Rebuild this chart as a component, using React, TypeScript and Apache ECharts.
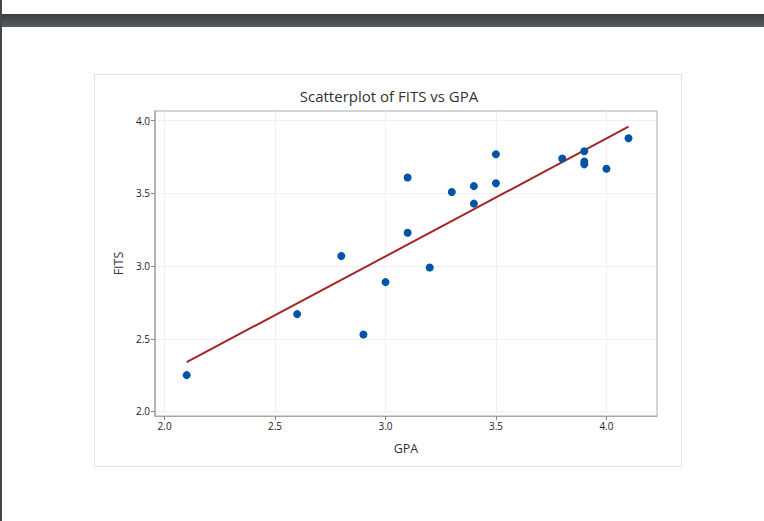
import React, { useEffect, useRef } from "react";
import * as echarts from "echarts";

const gpa = [2.1, 2.6, 2.8, 2.9, 3.0, 3.1, 3.1, 3.2, 3.3, 3.4, 3.4, 3.5, 3.5, 3.8, 3.9, 3.9, 3.9, 4.0, 4.1];
const fits = [2.25, 2.67, 3.07, 2.53, 2.89, 3.61, 3.23, 2.99, 3.51, 3.55, 3.43, 3.77, 3.57, 3.74, 3.79, 3.72, 3.70, 3.67, 3.88];
const fitLineX = [2.1, 3.35, 4.1];
const fitLineY = [2.34, 3.35, 3.96];
const xTicks = [2.0, 2.5, 3.0, 3.5, 4.0];
const yTicks = [2.0, 2.5, 3.0, 3.5, 4.0];

export default function App() {
  const ref = useRef<HTMLDivElement>(null);
  useEffect(() => {
    if (!ref.current) return;
    const chart = echarts.init(ref.current, null, { renderer: "svg" });
    const font = "'Open Sans', 'Noto Sans', sans-serif";
    chart.setOption({
      animation: false,
      backgroundColor: "#ffffff",
      graphic: [
        {
          type: "rect",
          shape: { x: 0, y: 14, width: 764, height: 13 },
          style: {
            fill: new echarts.graphic.LinearGradient(0, 0, 0, 1, [
              { offset: 0, color: "#3a3e43" },
              { offset: 1, color: "#555a5f" },
            ]),
          },
          silent: true,
        },
        {
          type: "rect",
          shape: { x: 0, y: 0, width: 2, height: 521 },
          style: { fill: "#44484d" },
          silent: true,
        },
        {
          type: "rect",
          shape: { x: 94.5, y: 74.5, width: 587, height: 392 },
          style: { fill: "none", stroke: "#e2e2e2", lineWidth: 1 },
          silent: true,
        },
        {
          type: "text",
          x: 389,
          y: 96,
          style: {
            text: "Scatterplot of FITS vs GPA",
            fontSize: 15,
            fontFamily: font,
            fill: "#333333",
            textAlign: "center",
            textVerticalAlign: "middle",
          },
        },
      ],
      grid: {
        left: 155,
        top: 111,
        width: 502,
        height: 305,
        show: true,
        borderColor: "#a8a8a8",
        borderWidth: 1,
        containLabel: false,
      },
      xAxis: {
        type: "value",
        min: 1.9565,
        max: 4.229,
        name: "GPA",
        nameLocation: "middle",
        nameGap: 26,
        nameTextStyle: { fontSize: 12.5, color: "#333", fontFamily: font },
        axisLine: { show: true, lineStyle: { color: "#a8a8a8", width: 1 } },
        axisTick: { show: true, length: 4, lineStyle: { color: "#888" }, customValues: xTicks },
        axisLabel: {
          fontSize: 10,
          color: "#222",
          fontFamily: font,
          margin: 5,
          customValues: xTicks,
          formatter: (v: number) => v.toFixed(1),
        },
        splitLine: { show: true, lineStyle: { color: "#f0f0f0", width: 1 } },
      },
      yAxis: {
        type: "value",
        min: 1.969,
        max: 4.067,
        name: "FITS",
        nameLocation: "middle",
        nameGap: 28,
        nameTextStyle: { fontSize: 12.5, color: "#333", fontFamily: font },
        axisLine: { show: true, lineStyle: { color: "#a8a8a8", width: 1.5 } },
        axisTick: { show: true, length: 4, lineStyle: { color: "#888" }, customValues: yTicks },
        axisLabel: {
          fontSize: 10,
          color: "#222",
          fontFamily: font,
          margin: 5,
          customValues: yTicks,
          formatter: (v: number) => v.toFixed(1),
        },
        splitLine: { show: true, lineStyle: { color: "#f0f0f0", width: 1 } },
      },
      series: [
        {
          type: "line",
          data: fitLineX.map((x, i) => [x, fitLineY[i]]),
          showSymbol: false,
          symbol: "none",
          lineStyle: { color: "#a52424", width: 2 },
          z: 2,
        },
        {
          type: "scatter",
          data: gpa.map((x, i) => [x, fits[i]]),
          symbolSize: 8,
          itemStyle: { color: "#0054a6", opacity: 1 },
          z: 3,
        },
      ],
    });
    return () => chart.dispose();
  }, []);
  return (
    <div
      ref={ref}
      style={{ position: "fixed", left: 0, top: 0, width: 764, height: 521 }}
    />
  );
}
